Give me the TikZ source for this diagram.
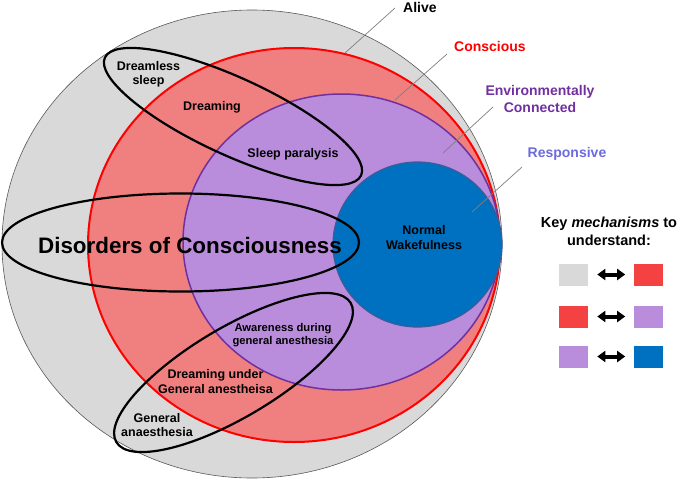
\documentclass[tikz,border=0pt]{standalone}
\usepackage{fontspec}
\setmainfont{Liberation Sans}
\usetikzlibrary{arrows.meta}
\definecolor{cgrey}{HTML}{D9D9D9}
\definecolor{cgreyline}{HTML}{595959}
\definecolor{cred}{HTML}{F08080}
\definecolor{credline}{HTML}{FF0000}
\definecolor{clegred}{HTML}{F44141}
\definecolor{cpurple}{HTML}{B98CDC}
\definecolor{cpurpleline}{HTML}{7030A0}
\definecolor{cblue}{HTML}{0070C0}
\definecolor{cblueline}{HTML}{3A5D98}
\definecolor{cresp}{HTML}{6B6BE0}
\definecolor{cleader}{HTML}{7F7F7F}
\tikzset{
  blob/.style={draw=black, line width=2.2pt},
  lbl/.style={font=\bfseries\fontsize{12.5}{14.5}\selectfont, align=center, inner sep=0pt},
  smalllbl/.style={font=\bfseries\fontsize{11.2}{13}\selectfont, align=center, inner sep=0pt},
  outlbl/.style={font=\bfseries\fontsize{14}{17}\selectfont, align=center, inner sep=0pt},
  leader/.style={draw=cleader, line width=0.7pt},
  legbox/.style={minimum width=30pt, minimum height=23pt, inner sep=0pt, draw=white, line width=0.6pt},
  legarrow/.style={line width=4pt, {Triangle[width=11pt,length=8pt]}-{Triangle[width=11pt,length=8pt]}}
}
\begin{document}
\begin{tikzpicture}[x=1pt,y=-1pt]
\useasboundingbox (0,0) rectangle (685,482);
% nested regions
\draw[fill=cgrey, draw=cgreyline, line width=0.6pt] (252,244) ellipse (250 and 234);
\draw[fill=cred, draw=credline, line width=2pt] (294,245) ellipse (206 and 197);
\draw[fill=cpurple, draw=cpurpleline, line width=1.5pt] (341.5,242) ellipse (158.5 and 148);
\draw[fill=cblue, draw=cblueline, line width=1.2pt] (417.5,244.5) ellipse (84.5 and 82.5);
% black state ellipses
\draw[blob, rotate around={-24.7:(233,116.5)}] (233,116.5) ellipse (141 and 38.6);
\draw[blob] (180.5,242.5) ellipse (178.5 and 49);
\draw[blob, rotate around={30.7:(233.5,372.5)}] (233.5,372.5) ellipse (136.3 and 44.8);
% inner labels
\node[lbl] (dreamless) at (148.5,74.5) {Dreamless\\sleep};
\node[lbl] (dreaming) at (212,107) {Dreaming};
\node[lbl] (paralysis) at (293,154) {Sleep paralysis};
\node[font=\bfseries\fontsize{22.4}{26}\selectfont, inner sep=0pt] (doc) at (190,245) {Disorders of Consciousness};
\node[lbl] (normal) at (424,237.5) {Normal\\Wakefulness};
\node[smalllbl] (awareness) at (283,335.5) {Awareness during\\general anesthesia};
\node[lbl] (dreamga) at (215.5,381.5) {Dreaming under\\General anestheisa};
\node[lbl] (ga) at (157,425) {General\\anaesthesia};
% outer labels
\node[outlbl, anchor=west] (alive) at (403,7) {Alive};
\node[outlbl, text=credline, anchor=west] (conscious) at (454,46) {Conscious};
\node[outlbl, text=cpurpleline] (envcon) at (540,98.5) {Environmentally\\Connected};
\node[outlbl, text=cresp] (resp) at (567,154) {Responsive};
% leader lines
\coordinate (pAlive) at (345,53);
\coordinate (qAlive) at (395,8);
\coordinate (pCons) at (395,100);
\coordinate (qCons) at (447,54);
\coordinate (pEnv) at (443,153);
\coordinate (qEnv) at (493,107);
\coordinate (pResp) at (472,212);
\coordinate (qResp) at (522,167);
\draw[leader] (pAlive) -- (qAlive);
\draw[leader] (pCons) -- (qCons);
\draw[leader] (pEnv) -- (qEnv);
\draw[leader] (pResp) -- (qResp);
% legend
\node[font=\bfseries\fontsize{14.5}{18}\selectfont, align=center, inner sep=0pt] (key) at (609,231) {Key \textit{mechanisms} to\\understand:};
\node[legbox, fill=cgrey] (l1) at (573,274.5) {};
\node[legbox, fill=clegred] (r1) at (648.5,274.5) {};
\node[legbox, fill=clegred] (l2) at (573,316.5) {};
\node[legbox, fill=cpurple] (r2) at (648.5,316.5) {};
\node[legbox, fill=cpurple] (l3) at (573,356.5) {};
\node[legbox, fill=cblue] (r3) at (648.5,356.5) {};
\draw[legarrow] ([xshift=9pt]l1.east) -- ([xshift=-8pt]r1.west);
\draw[legarrow] ([xshift=9pt]l2.east) -- ([xshift=-8pt]r2.west);
\draw[legarrow] ([xshift=9pt]l3.east) -- ([xshift=-8pt]r3.west);
\end{tikzpicture}
\end{document}
